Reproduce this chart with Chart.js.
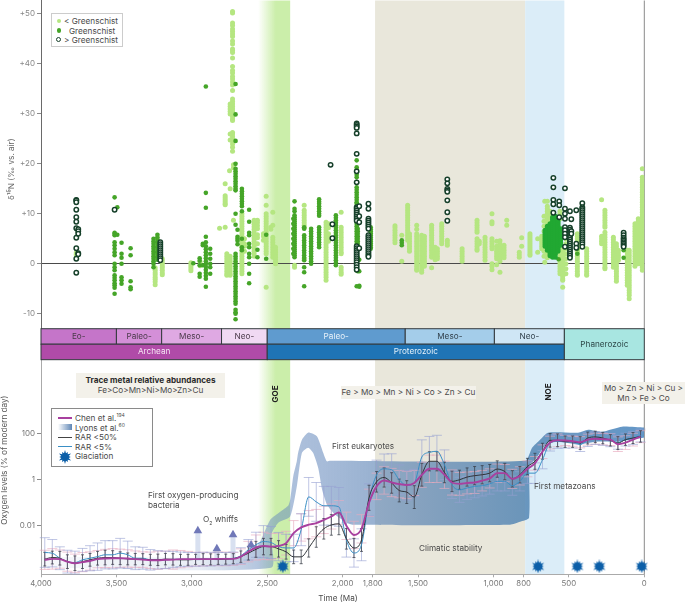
<!DOCTYPE html>
<html>
<head>
<meta charset="utf-8">
<script src="https://cdn.jsdelivr.net/npm/chart.js@4"></script>
<style>
  html, body { margin: 0; padding: 0; background: #fff; }
  #wrap { position: relative; width: 685px; height: 603px; overflow: hidden; font-family: Inter, sans-serif; color: #4a4a4a; }
  /* Chart.js keeps about 5px above the stacked axes, so the canvas sits 5px higher */
  canvas#chart { position: absolute; left: 0; top: -5px; }
  .note { position: absolute; font-size: 8.2px; line-height: 10px; white-space: nowrap; }
  .box { position: absolute; background: #f3f1ea; text-align: center; font-size: 8.2px; line-height: 10px; color: #4a4a4a; }
  .vert { position: absolute; font-size: 8px; font-weight: 700; color: #222; transform: translate(-50%, -50%) rotate(-90deg); }
  .legend { position: absolute; box-sizing: border-box; background: #fff; }
  .legend .row { position: absolute; font-size: 8.2px; line-height: 10px; white-space: nowrap; }
  .legend i { position: absolute; display: block; }
  sup, sub { font-size: 5px; line-height: 0; }
</style>
</head>
<body>
<div id="wrap">
  <canvas id="chart" width="685" height="608"></canvas>

  <div class="legend" style="left:51px;top:13px;width:72px;height:34px;border:1.5px solid #ccc">
    <i style="left:4.5px;top:4.5px;width:4.6px;height:4.6px;border-radius:50%;background:#b5e681"></i>
    <i style="left:4.5px;top:14px;width:4.6px;height:4.6px;border-radius:50%;background:#45a528"></i>
    <i style="left:4px;top:23px;width:3px;height:3px;border-radius:50%;border:1.4px solid #16402a"></i>
    <div class="row" style="left:12px;top:2px">&lt; Greenschist</div>
    <div class="row" style="left:17px;top:11.5px">Greenschist</div>
    <div class="row" style="left:12px;top:21px">&gt; Greenschist</div>
  </div>

  <div class="legend" id="oxyLegend" style="left:51px;top:408px;width:102px;height:59px;border:1px solid #8a8a8a">
    <i style="left:6px;top:7.5px;width:14px;height:2px;background:#a8409f"></i>
    <i style="left:6px;top:15px;width:14px;height:6px;background:linear-gradient(90deg,#fff,#5f86b5)"></i>
    <i style="left:6px;top:27.5px;width:14px;height:1px;background:#444"></i>
    <i style="left:6px;top:37px;width:14px;height:1px;background:#3a8fc5"></i>
    <div class="row" style="left:23px;top:3.5px">Chen et al.<sup>194</sup></div>
    <div class="row" style="left:23px;top:13.5px">Lyons et al.<sup>60</sup></div>
    <div class="row" style="left:23px;top:23px">RAR &lt;50%</div>
    <div class="row" style="left:23px;top:32.5px">RAR &lt;5%</div>
    <div class="row" style="left:23px;top:42px">Glaciation</div>
  </div>

  <div class="box" style="left:76px;top:373px;width:149px;height:25px;padding-top:2px;box-sizing:border-box"><b style="color:#2c2c2c">Trace metal relative abundances</b><br>Fe&gt;Co&gt;Mn&gt;Ni&gt;Mo&gt;Zn&gt;Cu</div>
  <div class="box" style="left:341px;top:386px;width:135px;height:13px;line-height:12px">Fe &gt; Mo &gt; Mn &gt; Ni &gt; Co &gt; Zn &gt; Cu</div>
  <div class="box" style="left:602px;top:382px;width:83px;height:22px;padding-top:1px;box-sizing:border-box">Mo &gt; Zn &gt; Ni &gt; Cu &gt;<br>Mn &gt; Fe &gt; Co</div>

  <div class="vert" style="left:274.5px;top:394px">GOE</div>
  <div class="vert" style="left:547.5px;top:392px">NOE</div>

  <div class="note" style="left:148px;top:490px">First oxygen-producing<br>bacteria</div>
  <div class="note" style="left:203px;top:514px">O<sub>2</sub> whiffs</div>
  <div class="note" style="left:332px;top:441px">First eukaryotes</div>
  <div class="note" style="left:534px;top:481px">First metazoans</div>
  <div class="note" style="left:419px;top:543px">Climatic stability</div>
</div>

<script>
// d15N columns: [age in Ma, [values in permil]]
const lowGradeColumns = [
  [3766, [2.2, 1.9, 1.6]],
  [3243, [-0.8, -1.3, -1.8, -2.2, -2.7, -3.1, -3.6, -4.2]],
  [3196, [1, 0.6, 0.1, -0.4, -0.8, -1.3, -1.8, -2.2]],
  [3006, [0.2, -0.2, -0.6, -1, -1.4]],
  [2945, [0.4, -0.4]],
  [2730, [50.5, 50.2, 48.2, 47.7, 47, 46.5, 46, 45.5, 44.6, 44, 43, 42.7, 42.3, 41.2, 39.5, 38.7, 38.2, 37.5, 37, 36.4, 35.8, 34.7, 33, 32.5, 32, 31.5, 31, 30.5, 30, 29.5, 29, 28.7, 26.3, 26, 25.5, 25, 24.6, 24, 23.3, 22.5]],
  [2746, [32, 31.5, 31, 30.5, 30, 26, 24.8, 15, 1.5, 1, 0.5, 0, -0.5, -1, -1.5, -2, -2.3]],
  [2750, [18.6]],
  [2779, [16, 13.6, 13.2, 12.8, 12.4, 12, 11.8, 7.3]],
  [2816, [7.1]],
  [2724, [19.8, 19.2, 8.7]],
  [2768, [2, 1.5, 1, 0.5, 0, -0.5, -1, -1.5, -2, -2.3]],
  [2668, [10, 9.5, 9, 8.5, 8, 7.5, 7, 6.5, 6, 5.5, 5, 4.5, 4, 3.5, 3, 2.5, 2, 1.5, 1, 0.5, 0, -0.5, -1, -1.5, -2]],
  [2651, [5, 4, 3.5, 2.5]],
  [2587, [8.7, 8.3, 7.9, 7.4, 6.9, 6.4, 5.9, 5.4, 5, 4.5, 4, 3.5, 3, 2.5, 2, 1.5]],
  [2565, [8.7, 8.2, 7.6, 7, 5.8, 5.2, 4]],
  [2525, [6, 5.5, 4.7]],
  [2507, [13.5, 11.7, 10, 9.5, 9, 8.5, 8, 7.5, 7, 6.5, 6, 5.5, 5, 4.5, 4, 3.5, 3, 2.5, 2, -4.7]],
  [2476, [7.3, 6.9]],
  [2463, [10.3, 7.7, 5.3, 4.8, 4.3, 3.8, 3.3, 2.8, 2.3, 1.8, 1.3]],
  [2445, [3.3, 2.8, 2.3, 1.8, 1.3, 0.8, 0.3, 0]],
  [2319, [-0.3, -0.7]],
  [2255, [11.7, 10.7, 10.2, 9.7, 9.2, 8.7, 8.2, 7.7, 7.2, 1]],
  [2110, [8.3, 7.8, 7.3, 6.8, 6.3, 5.8, 5.3, 4.8, 4.3, 3.8, 3.3, 2.8, 2.3, 1.8, 1.3, 0.8, 0.3, -0.2, -0.7, -1.2, -1.7, -2.2, -2.7, -3.3]],
  [2094, [8, 7.2, 6, 5.2, 4.5]],
  [2010, [10.3, 7.3, 6.8, 6.3, 5.8, 5.3, 4.8, 4.3, 3.8, 3.3, 2.8, 2.3, 2, -0.7, -1.2, -1.7, -2.1]],
  [1653, [7.6, 7.2, 6.7, 6.2, 5.7, 5.2, 4.7, 4.2]],
  [1608, [5.7, 0.5]],
  [1569, [11.7, 11.2, 10.7, 10.2, 9.7, 9.2, 8.7, 8.2, 7.7, 7.2, 6.7, 6.2, 5.7, 5.2, 4.7]],
  [1557, [6, 5.5, 5, 4.5, 4, 3.5, 3, 2.5]],
  [1509, [7.7, 6.9, 6, 5.5, 5, 4.5, 4, 3.5, 3, 2.5, 2, 1.5, 1, 0.5, 0, -0.5, -1, -1.3]],
  [1476, [5.7, 5.2, 4.7, 4.2, 3.7, 3.2, 2.7, 2.2, 1.7, 1.2, 0.7, 0.2, -0.3, -0.8, -1.3, -1.7]],
  [1458, [5.5, 5, 4.5, 4, 3.5, 3, 2.5, 2, 1.5, 1, 0.5, 0, -0.5]],
  [1410, [7.7, 7.2, 6.7, 6.2, 5.7, 5.2, 4.7, 4.2, 3.7, 3.2, 2.7, 2.2, 1.7, 1.3, -0.8]],
  [1387, [3.3, 2.8, 2.3, 1.8, 1.3, 0.8]],
  [1372, [3, 2.5, 2, 1.5, 1]],
  [1343, [8, 7.5, 7, 6.5, 6, 5.5, 5, 4.5, 4]],
  [1306, [4.7, 4.2, 3.7]],
  [1208, [3, 2.5, 2, 1.5, 1, 0.5]],
  [1109, [8.7, 8.2, 7.7, 7.2, 6.7, 6.3, 5, 4.5, 4, 3.5, 3, 2.7]],
  [1094, [4.5, 4]],
  [1056, [5.3, 4.8, 4.3, 3.8, 3.3, 2.8, 2.3, 1.8, 1.3, 0.7]],
  [1010, [10, 8.4, 8, 5, 4.5, 4, 3.5, 3, 0, -0.5, -1.2]],
  [979, [4.5, 3.5, 3, 2.5, 2, 1.5, 1, -0.2]],
  [957, [4.6, 4, 3.5, 3, 2.5, 2, 1.5, 1, 0.5, -1.7]],
  [930, [3.7, 3.2, 2.7, 2.2, 1.7, 1.2]],
  [912, [8.7, 7.7]],
  [829, [2.3, 1.8, 1.3]],
  [813, [5.2, 3.5]],
  [758, [6, 5.6, 5.2, 4.8, 4.4, 4, 3.6, 3.2, 2.8, 2.4, 2, 1.7]],
  [707, [5, 2.3]],
  [680, [5.5, 5, 4.5, 4, 3.5, 3]],
  [665, [9.5, 8.5, 7.5, 6.5, 5.5, 4.5, 3.5, 2.5, 1.5]],
  [660, [12.5, 5.5, 2.5, 0.3]],
  [643, [12.5, 11.5, 11, 10.5, 10, 9.5, 9, 8.5, 8, 7.5, 7, 6.5, 6, 5.5, 5, 4.5, 4, 2, 1.2]],
  [625, [10.5, 10, 9.5, 9, 8.5, 3, 2.5, 1.5]],
  [559, [10.5, 10, 9.5, 9, 4, 3.5, 3, 2.5, 2, 1.5, 1, 0.5, 0, -0.5, -1, -1.5, -2]],
  [541, [7, 6.5, 3, 2.5, 2, 1.5, 1, 0.5, 0, -0.5, -1, -1.5, -2, -2.5, -3, -3.3, -4.7]],
  [520, [5, 4, 3, 2, 1, 0, -1, -2]],
  [444, [6, 5.5, 5, 4.5, 4, 3.5, 3, 2.5, 2, 1.5, 1, 0.5, 0, -0.5, -1, -1.5, -2, -2.3]],
  [382, [3, 2.5, 2, 1.5, 1, 0.5, 0, -0.5, -1, -1.5, -2, -2.3]],
  [283, [12.8, 5.5, 5, 4.5, 4]],
  [261, [10.7, 10.2, 9.7, 9.2, 8.7, 8.2, 7.7, 7.3, 6.3, 5.8, 5.3, 4.8, 4.3, 3.8, 3.3, 2.8, 2.3, 1.8, 1.3, 0.8, 0.3, -0.2, -0.7, -1]],
  [205, [5.3, 4.8, 4.3, 3.8, 3.3, 2.8, 2.3, 1.8, 1.3, 0.8, 0.3, -0.2, -0.7]],
  [185, [4, 3.5, 3, 2.5, 2, 1.5, 1, 0.5, 0, -0.5, -1, -1.5, -2, -2.5, -3, -3.5]],
  [172, [2.7, 2.2, 1.7, 1.2, 0.7]],
  [113, [2.7, 2.2, 1.7, 1.2, 0.7, 0.2, -0.3, -0.8, -1.3, -1.8, -2.3, -2.8, -3.3, -3.8, -4.3]],
  [100, [2.7, 2.2, 1.7, 1.2, 0.7, 0.2, -0.3, -0.8, -1.3, -1.8, -2.3, -2.8, -3.3, -3.8, -4.3, -4.8, -5.3, -5.8, -6.3, -7]],
  [62, [8, 7.5, 7, 6.5, 6, 5.5, 5, 4.5, 4, 3.5, 3, 2.5, 2, 1.5, 1, 0.5, 0, -0.5]],
  [40, [9, 8.5, 8, 7.5, 7, 6.5, 6, 5.5, 5, 4.5, 4, 3.5, 3, 2.5, 2, 1.5, 1, 0.5, 0]],
  [29, [7, 6, 5, 4, 3, 2, 1, 0]],
  [13, [19, 17.3, 16.8, 16.3, 15.8, 15.3, 14.8, 14.3, 13.8, 13.3, 12.8, 12.3, 11.8, 11.3, 10.8, 10.3, 9.8, 9.3, 8.8, 8.3, 7.8, 7.3, 6.8, 6.3, 5.8, 5.3, 4.8, 4.3, 3.8, 3.3, 2.8, 2.3, 1.8, 1.3, 0.8, 0.3, -0.2, -0.7, -1.3]]
];

const greenschistColumns = [
  [3512, [13.3, 6.2, 6, 5.7, 4.3, 3.7, 3, 2.3, 1.7, 0, -0.7, -1.3, -2.3, -2.8, -3.3, -3.9, -4.3, -4.8, -6]],
  [3494, [11.3, 5.8]],
  [3466, [4.2, 2, 1.2, 0, -2.7, -3.3, -4]],
  [3406, [3.1, 1.7, -3.5, -4.7, -5.1]],
  [3254, [5, 4.5, 4, 3.5, 3, 2.5, 2, 1.5, 1, 0.5, 0, -0.7]],
  [3228, [5.8, 5.3, 4.8, 4.3, 3.8, 3.3, 2.8, 2.3, 1.8, 1.3, 0.8]],
  [2990, [0.1]],
  [2948, [1.1, 0.6, -0.3, -2, -2.6]],
  [2927, [4, 3.7, -0.3]],
  [2907, [35.5, 14.2, 11.2, 5.4, 4.3, 3.5, 2.9, 2.3, 1.7, 1.1, 0.5, 0, -0.6, -1.2, -1.8, -2.4, -3, -4.6]],
  [2878, [3, 2, 1, 0, -0.7, -2]],
  [2710, [36, 29.9, 24.6, 20, 19, 18.5, 18, 17.5, 17, 16.5, 16, 15.5, 15, 14.7, 10, 7.8, 2, 1.5, 1, 0.5, 0, -0.5, -1, -1.5, -2, -2.5, -3, -3.5, -4, -4.5, -5, -5.5, -6, -6.5, -7, -7.5, -8, -9.2, -9.7, -10, -11.1]],
  [2697, [6.8, 5.4, 5, 4.6, 3.9]],
  [2668, [15, 14.5, 14, 13.5, 13, 12.5, 12, 11.5, 10.5, 5, 3.3, 2.7]],
  [2620, [10.8, 8.4, 6.2, 5.7, 4, 3.3, 2, 1.3, 0, -2, -3.9]],
  [2565, [2.8, 1.3]],
  [2507, [5.8, 1]],
  [2319, [12.5, 11, 10.5, 9.7, 9.3, 8.9, 8.5, 8.1, 7.7, 7.3, 6.9, 6.5, 6.1, 5.7, 5.3, 4.9, 4.5, 4.1, 3.7, 3.3, 2.9, 2.5, 2.1, 1.7, 1.3]],
  [2327, [9, 8, 7, 6, 5, 4, 3, 2]],
  [2255, [7.3, 7, 5.7, 5.2, 4.7, 4.2, 3.7, 3.2, 2.7, 2.2, 1.7, 1.2, 0.7, -0.7, -1.7, -4.5]],
  [2209, [7, 6.5, 6, 5.5, 5, 4.5, 4, 3.5, 3, 2.5, 2, 1.5, 1, 0.5, 0]],
  [2156, [12.9, 12.4, 12, 11.5, 11, 10.5, 10, 9.6, 7.3, 6.8, 6.3, 5.8, 5.3, 4.8, 4.3, 3.8, 3.3]],
  [2045, [9.7, 9.2, 8.7, 8.2, 7.7, 7.2, 6.7, 6.2, 5.7, 5.2, 4.7, 4.2, 3.7, 3.2, 2.7, 2.2, 1.7, 1.2, 0.7, 0.2, -0.3]],
  [1907, [22, 20.7, 19.3, 18.8, 18.3, 17.8, 17.3, 16.3, 15.3, 14.8, 14.3, 13.8, 13.3, 12.8, 12.3, 12, 11, 10, 9, 8.5, 8, 7.5, 7, 6.5, 6, 5.5, 5, 4.5, 4, 3.5, 3, 2, 1, 0, -1.3, -4.5]],
  [1900, [9, 8, 7, 6.5, 6, 5.5, 5, 4.5, 4, 3.5, 3, 1.2, -1.5]],
  [1890, [0.8, -1.5, -4.6, -4.4]],
  [1814, [7.3, 6.9, 6.5, 6.1, 5.7, 5.3, 4.9, 4.5, 4.1, 3.7, 3.3, 3]],
  [1608, [4.7, 4.2, 3.7]],
  [568, [0.9]],
  [444, [3, 2]],
  [137, [2.7, 1.2]]
];

// the dense cluster at the Neoproterozoic-Cambrian boundary
const clusterColumns = [
  [658, [6.7, 6.3, 5.9, 5.5, 5.1, 4.7, 4.3, 3.9, 3.5]],
  [643, [7.5, 7.1, 6.7, 6.3, 5.9, 5.5, 5.1, 4.7, 4.3, 3.9, 3.5, 3.1, 2.7]],
  [625, [8, 7.6, 7.2, 6.8, 6.4, 6, 5.6, 5.2, 4.8, 4.4, 4, 3.6, 3.2, 2.8, 2.4, 2, 1.6]],
  [608, [9.3, 8.9, 8.5, 8.1, 7.7, 7.3, 6.9, 6.5, 6.1, 5.7, 5.3, 4.9, 4.5, 4.1, 3.7, 3.3, 2.9, 2.5, 2.1, 1.7, 1.3]],
  [590, [9.5, 9.1, 8.7, 8.3, 7.9, 7.5, 7.1, 6.7, 6.3, 5.9, 5.5, 5.1, 4.7, 4.3, 3.9, 3.5, 3.1, 2.7, 2.3, 1.9, 1.3]],
  [572, [8.5, 8.1, 7.7, 7.3, 6.9, 6.5, 6.1, 5.7, 5.3, 4.9, 4.5, 4.1, 3.7, 3.3, 2.9, 2.5]],
  [555, [7, 6.6, 6.2, 5.8, 5.4, 5, 4.6, 4.2, 3.7]]
];

const highGradeColumns = [
  [3766, [12.8, 12.7, 12.3, 10.8, 9.3, 8.4, 7.1, 5.2, 3.1, 1, -1.8]],
  [3753, [6.9, 6.5, 6, 2.1, 1.9]],
  [3512, [10.8]],
  [3209, [4.3, 3.9, 3.5, 3.1, 2.7, 2.3, 1.9, 1.5, 1.1, 0.7]],
  [2080, [19.8]],
  [2068, [7.9, 5.1]],
  [1907, [28.1, 27.8, 27.5, 27.2, 26.1, 22, 18.5, 16.3, 11.3, 11, 10.6, 10.2, 9.8, 9.4, 9, 8.6, 3.5, 3.1, 2.7, 2.3, 1.9, 1.5, 1.1, 0.7, 0.3, -0.2, -0.7, -1.2]],
  [1890, [11.5, 9.5, 8.3, 3.1]],
  [1829, [12, 11, 9, 8.6, 8.2, 7.8, 7.4, 7, 5.7, 5.3, 4.9, 4.5, 4.1, 3.7, 3.3, 2.9, 2.5, 2.1, 1.7, 1.4]],
  [1306, [16.9, 16.1, 15, 14.7, 14.4, 12.7, 10.3, 8.6]],
  [603, [17.2, 15.3, 12.8, 11.9, 10.2]],
  [564, [12.5, 11.7, 9.3]],
  [526, [15.1, 11, 10, 9, 7.3, 6.7, 6, 5.3, 3.4]],
  [493, [10.5, 7.2, 6.8, 6.4, 6, 5.6, 5.2, 4.8, 4.4, 4, 3.6, 3.2, 2.8, 2.4, 2, 1.6, 1.2]],
  [484, [8.9, 6.5, 6]],
  [451, [10.7, 4, 3.2]],
  [411, [12.1, 11.3, 11, 10.7, 10.3, 9.9, 9.5, 9.1, 8.7, 8.3, 7.9, 7.5, 7.1, 6.7, 6.3, 5.9, 5.5, 5.1, 4.7, 4.3, 3.9, 3.4]],
  [137, [6.2, 5.7, 5.2, 4.9, 4.6, 4.3, 4, 3.7, 3.4]]
];

const d15NTicks = [-10, 0, 10, 20, 30, 40, 50];

// oxygen curves, log10 of % of modern day, one value per age bin
const oxyAges = [3975, 3925, 3875, 3825, 3775, 3725, 3675, 3625, 3575, 3525, 3475, 3425, 3375, 3325, 3275, 3225, 3175, 3125, 3075, 3025,
  2975, 2925, 2875, 2825, 2775, 2725, 2675, 2625, 2575, 2525, 2475, 2425, 2375, 2325, 2275, 2225, 2175, 2125, 2075, 2025,
  1975, 1925, 1875, 1825, 1775, 1725, 1675, 1625, 1575, 1525, 1475, 1425, 1375, 1325, 1275, 1225, 1175, 1125, 1075, 1025,
  975, 925, 875, 825, 775, 725, 675, 625, 575, 525, 475, 425, 375, 325, 275, 225, 175, 125, 75, 25];
const chenLog = [-3.52, -3.48, -3.49, -3.6, -3.67, -3.62, -3.57, -3.49, -3.46, -3.45, -3.45, -3.46, -3.49, -3.51, -3.54, -3.54, -3.52, -3.51, -3.49, -3.49,
  -3.49, -3.49, -3.49, -3.48, -3.48, -3.48, -3.38, -3.16, -2.98, -2.91, -2.94, -2.91, -2.79, -2.35, -2.1, -1.98, -1.91, -1.77, -1.62, -1.44,
  -2.03, -2.43, -2.16, -1.02, -0.3, -0.04, -0.13, -0.2, -0.24, -0.15, 0.21, 0.47, 0.47, 0.21, -0.13, -0.19, -0.15, -0.13, -0.05, 0.05,
  0.28, 0.28, 0.03, 0.16, 0.47, 0.71, 1.22, 1.62, 1.72, 1.71, 1.68, 1.64, 1.75, 1.79, 1.77, 1.75, 1.55, 1.62, 1.75, 1.88];
const rar50Log = [-3.49, -3.42, -3.45, -3.6, -3.67, -3.6, -3.52, -3.45, -3.42, -3.42, -3.45, -3.48, -3.49, -3.49, -3.52, -3.52, -3.49, -3.5, -3.52, -3.52,
  -3.5, -3.49, -3.5, -3.5, -3.49, -3.47, -3.38, -3.23, -3.06, -2.94, -2.94, -3.04, -3.17, -3.39, -3.39, -3, -2.52, -2.16, -1.99, -1.94,
  -2.6, -3, -2.65, -0.8, -0.1, 0.09, -0.15, -0.48, -0.55, -0.77, 0.21, 0.8, 0.8, 0.31, -0.08, -0.01, 0.11, 0.17, 0.21, 0.28,
  0.46, 0.35, 0.03, 0.21, 0.57, 0.8, 1.24, 1.72, 1.72, 1.66, 1.66, 1.6, 1.82, 1.87, 1.82, 1.72, 1.6, 1.75, 1.82, 1.89];
const rar5Log = [-3.2, -3.23, -3.45, -3.6, -3.64, -3.52, -3.45, -3.38, -3.3, -3.3, -3.23, -3.3, -3.45, -3.45, -3.52, -3.52, -3.52, -3.5, -3.5, -3.5,
  -3.5, -3.49, -3.49, -3.48, -3.48, -3.46, -3.34, -3.08, -2.86, -2.72, -2.76, -2.94, -3, -3, -2.2, -0.76, -0.98, -1.15, -1.15, -1.2,
  -2.65, -3.22, -2.86, -0.89, 0.2, 0.47, 0.43, -0.01, -0.26, -0.15, 0.99, 1.19, 1.24, 0.65, -0.23, -0.45, -0.37, -0.3, -0.27, -0.19,
  -0.08, -0.08, -0.27, -0.08, 0.28, 0.28, 0.87, 1.6, 1.67, 1.66, 1.66, 1.53, 1.75, 1.82, 1.78, 1.72, 1.63, 1.75, 1.82, 1.93];

// half height of the error bars, in decades
const chenErr = [0.42, 0.45, 0.4, 0.42, 0.4, 0.42, 0.4, 0.38, 0.4, 0.42, 0.4, 0.38, 0.36, 0.34, 0.36, 0.4, 0.38, 0.42, 0.38, 0.34,
  0.3, 0.3, 0.28, 0.3, 0.3, 0.28, 0.34, 0.45, 0.55, 0.6, 0.58, 0.55, 0.52, 0.55, 0.6, 0.62, 0.6, 0.6, 0.55, 0.52,
  0.6, 0.6, 0.62, 0.6, 0.58, 0.6, 0.62, 0.6, 0.6, 0.55, 0.55, 0.6, 0.6, 0.6, 0.55, 0.5, 0.48, 0.48, 0.45, 0.42,
  0.4, 0.38, 0.42, 0.4, 0.35, 0.3, 0.3, 0.28, 0.28, 0.22, 0.22, 0.25, 0.24, 0.24, 0.25, 0.26, 0.32, 0.3, 0.28, 0.26];
const rar50Err = [0.3, 0.28, 0.3, 0.3, 0.32, 0.3, 0.28, 0.3, 0.32, 0.3, 0.28, 0.26, 0.25, 0.24, 0.24, 0.25, 0.25, 0.25, 0.24, 0.24,
  0.22, 0.24, 0.24, 0.22, 0.22, 0.22, 0.25, 0.3, 0.35, 0.36, 0.36, 0.36, 0.32, 0.3, 0.3, 0.4, 0.45, 0.45, 0.45, 0.48,
  0.45, 0.42, 0.5, 0.55, 0.45, 0.42, 0.45, 0.5, 0.5, 0.5, 0.5, 0.42, 0.42, 0.45, 0.45, 0.42, 0.4, 0.4, 0.4, 0.38,
  0.36, 0.36, 0.36, 0.36, 0.36, 0.35, 0.35, 0.3, 0.28, 0.25, 0.25, 0.28, 0.26, 0.25, 0.25, 0.25, 0.28, 0.25, 0.24, 0.25];
const rar5Err = [0.65, 0.6, 0.5, 0.5, 0.5, 0.5, 0.55, 0.6, 0.62, 0.62, 0.65, 0.6, 0.5, 0.48, 0.45, 0.4, 0.38, 0.35, 0.32, 0.3,
  0.3, 0.3, 0.3, 0.28, 0.28, 0.28, 0.35, 0.45, 0.55, 0.7, 0.7, 0.62, 0.6, 0.6, 0.7, 0.85, 0.85, 0.85, 0.85, 0.85,
  0.75, 0.62, 0.7, 0.7, 0.65, 0.65, 0.7, 0.65, 0.65, 0.6, 0.75, 0.7, 0.7, 0.65, 0.6, 0.55, 0.5, 0.5, 0.45, 0.45,
  0.42, 0.42, 0.42, 0.42, 0.45, 0.45, 0.4, 0.35, 0.3, 0.28, 0.28, 0.3, 0.3, 0.28, 0.28, 0.28, 0.3, 0.28, 0.28, 0.28];

// Lyons et al. envelope as [age, % of modern day]
const lyonsUpper = [[4000, 0.00041], [2944, 0.00037], [2679, 0.00041], [2560, 0.0014], [2481, 0.017], [2414, 0.039], [2361, 0.071], [2348, 0.13], [2328, 1.33], [2304, 6.3], [2295, 15], [2270, 56], [2229, 114], [2171, 79], [2129, 15], [2105, 6.3], [2083, 6.7], [790, 6.7], [744, 25], [691, 56], [638, 114], [439, 114], [373, 154], [280, 126], [148, 209], [0, 189]];
const lyonsLower = [[4000, 0.000135], [2474, 0.000135], [2473, 0.0038], [2427, 0.0127], [2348, 0.024], [2304, 0.49], [2270, 15], [2229, 25], [2196, 15], [2162, 3.2], [2136, 0.36], [2103, 0.079], [2050, 0.029], [1983, 0.014], [1937, 0.0104], [890, 0.0104], [824, 0.014], [764, 0.021], [761, 4.4], [724, 7.4], [638, 42], [526, 42], [439, 34], [307, 46], [174, 46], [0, 69]];

const whiffAges = [2960, 2834, 2727, 2607];
const whiffLog = [-2.25, -3.04, -2.42, -2.87];
const whiffBaseLog = -3.55;

const glaciationAges = [2397, 704, 444, 298, 17];
const glaciationLog = [-3.81, -3.81, -3.81, -3.81, -3.81];

const oxyTicks = [100, 1, 0.01];
const timeTicks = [4000, 3500, 3000, 2500, 2000, 1800, 1500, 1000, 800, 500, 0];

// background spans behind both panels
const goeSpan = [2560, 2348];
const stabilitySpan = [1785, 790];
const noeSpan = [790, 530];

// era strip: label, from, to, top row value, bottom row value, fill, text colour
const eraLabels = ['Eo-', 'Paleo-', 'Meso-', 'Neo-', 'Paleo-', 'Meso-', 'Neo-', 'Archean', 'Proterozoic', 'Phanerozoic'];
const eraFrom = [4000, 3500, 3200, 2803, 2500, 1585, 994, 4000, 2500, 530];
const eraTo = [3500, 3200, 2803, 2500, 1585, 994, 530, 2500, 530, 0];
const eraTop = [2, 2, 2, 2, 2, 2, 2, 1, 1, 2];
const eraBottom = [1, 1, 1, 1, 1, 1, 1, 0, 0, 0];
const eraFill = ['#c575c9', '#d48fd8', '#dfa9e3', '#f0d9f3', '#5f9bcf', '#a4cdea', '#cfe6f5', '#b04ba8', '#1f74b5', '#a8e6e1'];
const eraText = ['#4a3a4a', '#4a3a4a', '#4a3a4a', '#4a3a4a', '#e8f2fa', '#33424e', '#33424e', '#f6e6f5', '#e3f0fa', '#2f4a4a'];

const FONT = 'Inter, sans-serif';

function columnsToPoints(columns) {
  return columns.flatMap(([age, values]) => values.map(v => ({ x: age, y: v })));
}

// six armed snowflake, used by the Glaciation dataset and its legend entry
function makeStar(size) {
  const c = document.createElement('canvas');
  c.width = size;
  c.height = size;
  const g = c.getContext('2d');
  const mid = size / 2;
  const spikes = [1, 0.55, 0.82, 0.55];
  g.fillStyle = '#0b5ea8';
  g.beginPath();
  for (let i = 0; i < 24; i++) {
    const r = mid * spikes[i % 4];
    const a = (i * Math.PI) / 12 - Math.PI / 2;
    g.lineTo(mid + r * Math.cos(a), mid + r * Math.sin(a));
  }
  g.closePath();
  g.fill();
  return c;
}

const legendStar = makeStar(14);
legendStar.style.cssText = 'position:absolute;left:6px;top:41px';
document.getElementById('oxyLegend').appendChild(legendStar);

// stacked y axes keep room for half a tick label, which would push the panels down
function fixLeftAxis(axis) {
  axis.width = 41;
  axis.paddingTop = 0;
  axis.paddingBottom = 0;
}

// shaded spans go in first, so grid and points sit on top
const bandsPlugin = {
  id: 'bands',
  beforeDraw(chart) {
    const { ctx, scales } = chart;
    const x = scales.x;
    const panels = [scales.yN, scales.yOxy];
    const fillSpan = (span, style) => {
      const x0 = x.getPixelForValue(span[0]);
      const x1 = x.getPixelForValue(span[1]);
      ctx.fillStyle = typeof style === 'function' ? style(x0, x1) : style;
      panels.forEach(p => ctx.fillRect(x0, p.top, x1 - x0, p.bottom - p.top));
    };
    ctx.save();
    fillSpan(stabilitySpan, '#e9e7db');
    fillSpan(noeSpan, '#dbedf8');
    fillSpan(goeSpan, (x0, x1) => {
      const grad = ctx.createLinearGradient(x0, 0, x1, 0);
      grad.addColorStop(0, 'rgba(203,238,170,0)');
      grad.addColorStop(0.55, '#cbeeaa');
      grad.addColorStop(1, '#cbeeaa');
      return grad;
    });
    // right hand frame
    ctx.strokeStyle = '#8a8a8a';
    ctx.lineWidth = 1;
    ctx.beginPath();
    panels.forEach(p => {
      ctx.moveTo(x.right, p.top);
      ctx.lineTo(x.right, p.bottom);
    });
    ctx.stroke();
    ctx.restore();
  }
};

// error bars and whiff stems, above the Lyons fill and under the curves
const errorBarsPlugin = {
  id: 'errorBars',
  beforeDatasetsDraw(chart) {
    const { ctx, scales } = chart;
    const x = scales.x;
    const y = scales.yOxy;
    ctx.save();
    whiffAges.forEach((age, i) => {
      const px = x.getPixelForValue(age);
      const top = y.getPixelForValue(Math.pow(10, whiffLog[i]));
      const bottom = y.getPixelForValue(Math.pow(10, whiffBaseLog));
      ctx.fillStyle = 'rgba(190,203,230,0.6)';
      ctx.fillRect(px - 2.5, top, 5, bottom - top);
    });
    const drawBars = (centre, err, color, cap, width) => {
      ctx.strokeStyle = color;
      ctx.lineWidth = width;
      ctx.beginPath();
      oxyAges.forEach((age, i) => {
        const px = x.getPixelForValue(age);
        const hi = y.getPixelForValue(Math.pow(10, centre[i] + err[i]));
        const lo = y.getPixelForValue(Math.pow(10, centre[i] - err[i]));
        ctx.moveTo(px, hi);
        ctx.lineTo(px, lo);
        if (cap > 0) {
          ctx.moveTo(px - cap, hi);
          ctx.lineTo(px + cap, hi);
          ctx.moveTo(px - cap, lo);
          ctx.lineTo(px + cap, lo);
        }
      });
      ctx.stroke();
    };
    drawBars(chenLog, chenErr, 'rgba(232,170,190,0.65)', 5, 1);
    drawBars(rar5Log, rar5Err, 'rgba(150,160,210,0.6)', 5, 1);
    drawBars(rar50Log, rar50Err, 'rgba(55,60,70,0.75)', 1.5, 1);
    ctx.restore();
  }
};

const erasPlugin = {
  id: 'eras',
  afterDatasetsDraw(chart) {
    const { ctx, scales } = chart;
    const x = scales.x;
    const y = scales.yEra;
    ctx.save();
    ctx.font = '8.2px ' + FONT;
    ctx.textAlign = 'center';
    ctx.textBaseline = 'middle';
    ctx.lineWidth = 1;
    ctx.strokeStyle = '#33393d';
    eraLabels.forEach((label, i) => {
      const x0 = x.getPixelForValue(eraFrom[i]);
      const x1 = x.getPixelForValue(eraTo[i]);
      const top = y.getPixelForValue(eraTop[i]);
      const bottom = y.getPixelForValue(eraBottom[i]);
      ctx.fillStyle = eraFill[i];
      ctx.fillRect(x0, top, x1 - x0, bottom - top);
      ctx.strokeRect(x0, top, x1 - x0, bottom - top);
      ctx.fillStyle = eraText[i];
      ctx.fillText(label, (x0 + x1) / 2, (top + bottom) / 2);
    });
    ctx.restore();
  }
};

const dotDefaults = { type: 'scatter', yAxisID: 'yN', borderWidth: 0, pointRadius: 2.5 };
const oxyLine = (label, values, color, width, order) => ({
  type: 'line',
  label,
  yAxisID: 'yOxy',
  data: oxyAges.map((age, i) => ({ x: age, y: Math.pow(10, values[i]) })),
  borderColor: color,
  borderWidth: width,
  pointRadius: 0,
  cubicInterpolationMode: 'monotone',
  fill: false,
  order
});

const lyonsFill = (context) => {
  const { chart } = context;
  const area = chart.chartArea;
  if (!area) return 'rgba(105,140,190,0.4)';
  const grad = chart.ctx.createLinearGradient(area.left, 0, area.right, 0);
  grad.addColorStop(0, 'rgba(105,140,190,0.06)');
  grad.addColorStop(0.26, 'rgba(105,140,190,0.15)');
  grad.addColorStop(0.36, 'rgba(105,140,190,0.5)');
  grad.addColorStop(0.46, 'rgba(105,140,190,0.58)');
  grad.addColorStop(0.63, 'rgba(95,135,180,0.72)');
  grad.addColorStop(0.8, 'rgba(85,135,180,0.85)');
  grad.addColorStop(1, 'rgba(60,125,185,0.8)');
  return grad;
};

new Chart(document.getElementById('chart'), {
  type: 'scatter',
  data: {
    datasets: [
      { ...dotDefaults, label: '> Greenschist', data: columnsToPoints(highGradeColumns), pointBackgroundColor: '#ffffff', pointBorderColor: '#16402a', pointBorderWidth: 1.5, pointRadius: 2.2, order: 1 },
      { ...dotDefaults, label: 'Cluster', data: columnsToPoints(clusterColumns), pointBackgroundColor: '#21a832', order: 2 },
      { ...dotDefaults, label: 'Greenschist', data: columnsToPoints(greenschistColumns), pointBackgroundColor: '#45a528', pointRadius: 2.3, order: 3 },
      { ...dotDefaults, label: '< Greenschist', data: columnsToPoints(lowGradeColumns), pointBackgroundColor: '#b5e681', order: 4 },
      { type: 'line', label: 'Lyons upper', yAxisID: 'yOxy', data: lyonsUpper.map(p => ({ x: p[0], y: p[1] })), borderWidth: 0, pointRadius: 0, tension: 0.2, fill: '+1', backgroundColor: lyonsFill, order: 20 },
      { type: 'line', label: 'Lyons lower', yAxisID: 'yOxy', data: lyonsLower.map(p => ({ x: p[0], y: p[1] })), borderWidth: 0, pointRadius: 0, tension: 0.2, fill: false, order: 21 },
      oxyLine('RAR <50%', rar50Log, '#2f3338', 1, 12),
      oxyLine('RAR <5%', rar5Log, '#3a8fc5', 1, 13),
      oxyLine('Chen et al.', chenLog, '#a8409f', 1.9, 11),
      { type: 'scatter', label: 'O2 whiffs', yAxisID: 'yOxy', data: whiffAges.map((age, i) => ({ x: age, y: Math.pow(10, whiffLog[i]) })), pointStyle: 'triangle', pointRadius: 5, pointBackgroundColor: '#7078b8', borderWidth: 0, order: 6 },
      { type: 'scatter', label: 'Glaciation', yAxisID: 'yOxy', data: glaciationAges.map((age, i) => ({ x: age, y: Math.pow(10, glaciationLog[i]) })), pointStyle: makeStar(14), clip: false, order: 5 }
    ]
  },
  plugins: [bandsPlugin, errorBarsPlugin, erasPlugin],
  options: {
    responsive: false,
    animation: false,
    events: [],
    layout: { padding: { left: 0, right: 40.7, top: 0, bottom: 0 } },
    plugins: {
      legend: { display: false },
      tooltip: { enabled: false },
      filler: { drawTime: 'beforeDatasetsDraw' }
    },
    scales: {
      x: {
        type: 'linear',
        reverse: true,
        min: 0,
        max: 4000,
        position: 'bottom',
        afterBuildTicks: (axis) => { axis.ticks = timeTicks.map(v => ({ value: v })); },
        afterFit: (axis) => { axis.height = 28.7; },
        grid: { drawOnChartArea: false, tickLength: 3, tickColor: '#aaa' },
        border: { color: '#aaa' },
        ticks: {
          autoSkip: false,
          maxRotation: 0,
          padding: 2,
          color: '#777',
          font: { family: FONT, size: 7.8 },
          callback: v => v.toLocaleString('en-US')
        },
        // trailing no-break spaces nudge the title to where the reference has it
        title: { display: true, text: 'Time (Ma)\u00a0\u00a0\u00a0\u00a0', color: '#4a4a4a', padding: 0, font: { family: FONT, size: 8.2 } }
      },
      yN: {
        type: 'linear',
        position: 'left',
        stack: 'panels',
        stackWeight: 328.5,
        weight: 3,
        min: -13,
        max: 52.7,
        afterBuildTicks: (axis) => { axis.ticks = d15NTicks.map(v => ({ value: v })); },
        afterFit: fixLeftAxis,
        grid: {
          color: c => (c.tick && c.tick.value === 0 ? '#4a4a4a' : 'rgba(0,0,0,0)'),
          tickColor: '#8a8a8a',
          tickLength: 4
        },
        border: { color: '#6a6a6a' },
        ticks: {
          autoSkip: false,
          padding: 2,
          color: '#888',
          font: { family: FONT, size: 8 },
          callback: v => (v > 0 ? '+' + v : String(v))
        },
        title: { display: true, text: 'δ¹⁵N (‰ vs. air)\u00a0\u00a0\u00a0\u00a0', color: '#666', padding: { top: 7, bottom: 0 }, font: { family: FONT, size: 8.2 } }
      },
      yEra: {
        type: 'linear',
        position: 'left',
        stack: 'panels',
        stackWeight: 31,
        weight: 2,
        min: 0,
        max: 2,
        afterFit: fixLeftAxis,
        grid: { display: false },
        border: { display: false },
        ticks: { display: false }
      },
      yOxy: {
        type: 'logarithmic',
        position: 'left',
        stack: 'panels',
        stackWeight: 214.8,
        weight: 1,
        min: 7.1e-5,
        max: 1.8e5,
        afterBuildTicks: (axis) => { axis.ticks = oxyTicks.map(v => ({ value: v })); },
        afterFit: fixLeftAxis,
        grid: { drawOnChartArea: false, tickColor: '#8a8a8a', tickLength: 4 },
        border: { color: '#aaa' },
        ticks: {
          autoSkip: false,
          padding: 2,
          color: '#777',
          font: { family: FONT, size: 8 },
          callback: v => String(v)
        },
        title: { display: true, text: '\u00a0\u00a0\u00a0\u00a0\u00a0\u00a0Oxygen levels (% of modern day)', color: '#555', padding: 0, font: { family: FONT, size: 8.2 } }
      }
    }
  }
});
</script>
</body>
</html>
